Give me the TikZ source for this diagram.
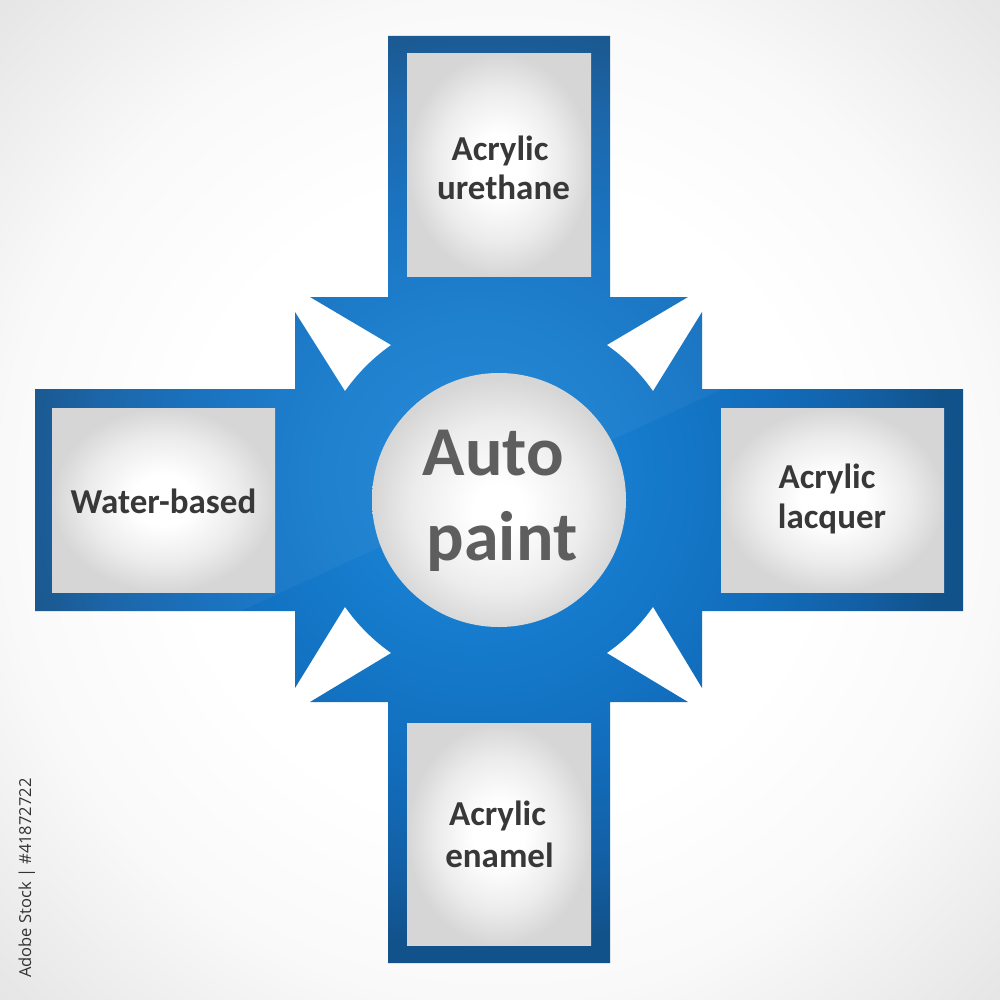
\documentclass[tikz,border=0pt]{standalone}
\usepackage{fontspec}
\setmainfont{Carlito}
\newfontfamily\wmfont{Open Sans}
\definecolor{bgin}{HTML}{FFFFFF}
\definecolor{bgmid}{HTML}{F9F9F9}
\definecolor{bgout}{HTML}{E4E4E4}
\definecolor{bl0}{HTML}{1C84D6}
\definecolor{bl1}{HTML}{187ECF}
\definecolor{bl2}{HTML}{1477C8}
\definecolor{bl3}{HTML}{126DBC}
\definecolor{bl4}{HTML}{1360A6}
\definecolor{bl5}{HTML}{12528B}
\definecolor{gin}{HTML}{FFFFFF}
\definecolor{gmid}{HTML}{ECECEC}
\definecolor{gout}{HTML}{D6D6D6}
\definecolor{lblgray}{HTML}{383838}
\definecolor{hubtext}{HTML}{5E5E5E}
\definecolor{wmgray}{HTML}{333333}
\pgfdeclareradialshading{bgrad}{\pgfpoint{0bp}{0bp}}{color(0bp)=(bgin); color(16bp)=(bgin); color(25bp)=(bgmid); color(36bp)=(bgout); color(50bp)=(bgout)}
\pgfdeclareradialshading{bluerad}{\pgfpoint{-1.5bp}{1.5bp}}{color(0bp)=(bl0); color(7bp)=(bl1); color(11bp)=(bl2); color(16bp)=(bl3); color(21bp)=(bl4); color(25bp)=(bl5); color(50bp)=(bl5)}
\pgfdeclareradialshading{grayrad}{\pgfpoint{0bp}{0bp}}{color(0bp)=(gin); color(7bp)=(gin); color(17bp)=(gmid); color(25bp)=(gout); color(50bp)=(gout)}
\pgfdeclareradialshading{hubrad}{\pgfpoint{0bp}{-2bp}}{color(0bp)=(gin); color(5bp)=(gin); color(17bp)=(gmid); color(25bp)=(gout); color(50bp)=(gout)}
\begin{document}
\begin{tikzpicture}[x=1pt,y=-1pt,
  graybox/.style={rectangle, draw=none, inner sep=0pt, outer sep=0pt, shade, shading=grayrad},
  lbl/.style={font=\fontsize{35}{42}\selectfont\bfseries, text=lblgray, inner sep=0pt, anchor=base},
  hub/.style={font=\fontsize{70}{84}\selectfont\bfseries, text=hubtext, inner sep=0pt, anchor=base}]
\useasboundingbox (0,0) rectangle (1000,1000);
\shade[shading=bgrad] (0,0) rectangle (1000,1000);
\def\blueshape{(388,36) -- (610,36) -- (610,297) -- (688,297)
  -- ([shift={(499,499)}]-55:188) arc[start angle=-55,end angle=-35,radius=188]
  -- (702,312) -- (702,389) -- (963,389) -- (963,611) -- (702,611) -- (702,688)
  -- ([shift={(499,499)}]35:188) arc[start angle=35,end angle=55,radius=188]
  -- (688,702) -- (610,702) -- (610,963) -- (388,963) -- (388,702) -- (310,702)
  -- ([shift={(499,499)}]125:188) arc[start angle=125,end angle=145,radius=188]
  -- (295,688) -- (295,611) -- (35,611) -- (35,389) -- (295,389) -- (295,312)
  -- ([shift={(499,499)}]215:188) arc[start angle=215,end angle=235,radius=188]
  -- (310,297) -- (388,297) -- cycle}
\shade[shading=bluerad] \blueshape;
\begin{scope}
  \clip \blueshape;
  \fill[white, opacity=0.04] (35,706) -- (963,278) -- (963,35) -- (35,35) -- cycle;
\end{scope}
% gray boxes
\node[graybox, minimum width=184pt, minimum height=222pt] (boxT) at (499,165) {};
\node[graybox, minimum width=223pt, minimum height=184pt] (boxL) at (163.5,500) {};
\node[graybox, minimum width=223pt, minimum height=184pt] (boxR) at (832.5,500) {};
\node[graybox, minimum width=184pt, minimum height=222pt] (boxB) at (499,834) {};
% hub
\node[circle, draw=none, inner sep=0pt, minimum size=254pt, shade, shading=hubrad] (hubc) at (499,500) {};
% labels
\node[lbl] (tA) at (500,161) {Acrylic};
\node[lbl] (tB) at (503.5,200) {urethane};
\node[lbl] (lA) at (163.5,513) {Water-based};
\node[lbl] (rA) at (827,488) {Acrylic};
\node[lbl] (rB) at (832,528) {lacquer};
\node[lbl] (bA) at (497.5,825) {Acrylic};
\node[lbl] (bB) at (499.5,867) {enamel};
% hub text
\node[hub] (h1) at (493.5,475) {Auto};
\node[hub] (h2) at (502,560) {paint};
% stock id
\node[rotate=90, anchor=base west, inner sep=0pt, text=wmgray, font=\wmfont\fontsize{16.5}{19}\selectfont] (wm) at (31,978) {Adobe Stock | \#41872722};
\end{tikzpicture}
\end{document}
